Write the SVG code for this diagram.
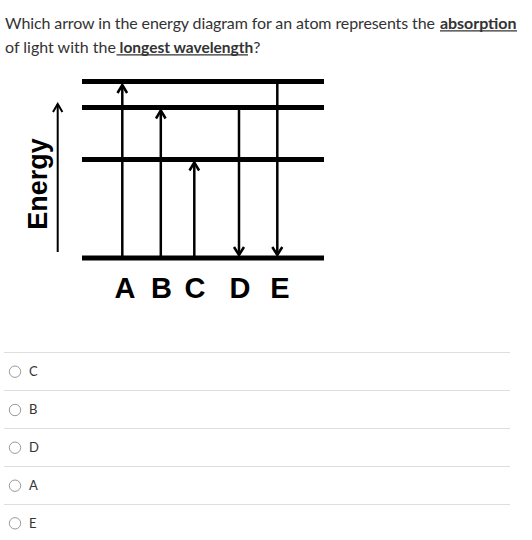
<svg xmlns="http://www.w3.org/2000/svg" width="532" height="540" viewBox="0 0 532 540">
<style>
.q{font-family:Lato,"Open Sans",sans-serif;font-size:16px;fill:#333}
.qb{font-weight:bold}
.ul{stroke:#333;stroke-width:1.3}
.lvl{stroke:#000;stroke-width:5;fill:none}
.tr{stroke:#000;stroke-width:2.5;fill:none}
.hd{stroke:#000;stroke-width:2.5;fill:none;stroke-linejoin:miter}
.lab{font-family:"Liberation Sans",Arial,sans-serif;font-weight:bold;font-size:29px;fill:#000;text-anchor:middle}
.sep{stroke:#dedede;stroke-width:1}
.rad{fill:#fff;stroke:#9a9a9a;stroke-width:1}
.opt{font-family:Lato,"Open Sans",sans-serif;font-size:13px;fill:#333}
</style>
<rect width="532" height="540" fill="#fff"/>
<g id="question">
<text class="q" x="5" y="29" textLength="430">Which arrow in the energy diagram for an atom represents the</text>
<text class="q qb" x="440" y="29" textLength="76.5">absorption</text>
<line class="ul" x1="440" y1="30.8" x2="517" y2="30.8"/>
<text class="q" x="5" y="53">of light with the<tspan class="qb" style="font-size:15.5px"> longest wavelength</tspan>?</text>
<line class="ul" x1="116.5" y1="54.8" x2="248" y2="54.8"/>
</g>
<g id="levels">
<line class="lvl" x1="82" y1="81.5" x2="324" y2="81.5"/>
<line class="lvl" x1="82" y1="107.5" x2="324" y2="107.5"/>
<line class="lvl" x1="82" y1="159.5" x2="324" y2="159.5"/>
<line class="lvl" x1="82" y1="258" x2="324" y2="258"/>
</g>
<g id="energy-axis">
<line class="tr" x1="57.7" y1="252" x2="57.7" y2="104" style="stroke-width:2"/>
<polyline class="hd" points="53,112 57.7,104 62.4,112" style="stroke-width:2"/>
<text x="47" y="184" transform="rotate(-90 47 184)" text-anchor="middle" style="font-family:'Liberation Sans',Arial,sans-serif;font-weight:bold;font-size:27px;fill:#000">Energy</text>
</g>
<g id="connectors">
<g id="arrow-A"><line class="tr" x1="122.3" y1="256" x2="122.3" y2="85"/><polyline class="hd" points="117.5,93 122.3,85 127.1,93"/></g>
<g id="arrow-B"><line class="tr" x1="160.8" y1="256" x2="160.8" y2="110.5"/><polyline class="hd" points="156,118.5 160.8,110.5 165.6,118.5"/></g>
<g id="arrow-C"><line class="tr" x1="194.3" y1="256" x2="194.3" y2="162.5"/><polyline class="hd" points="189.5,170.5 194.3,162.5 199.1,170.5"/></g>
<g id="arrow-D"><line class="tr" x1="239" y1="107.5" x2="239" y2="255"/><polyline class="hd" points="234,247 239,255 244,247"/></g>
<g id="arrow-E"><line class="tr" x1="277.3" y1="81.5" x2="277.3" y2="255"/><polyline class="hd" points="272.3,247 277.3,255 282.3,247"/></g>
</g>
<g id="labels">
<text class="lab" x="125" y="297.5">A</text>
<text class="lab" x="161.5" y="297.5">B</text>
<text class="lab" x="195" y="297.5">C</text>
<text class="lab" x="240" y="297.5">D</text>
<text class="lab" x="280" y="297.5">E</text>
</g>
<g id="options">
<line class="sep" x1="4" y1="352.5" x2="510" y2="352.5"/>
<g id="opt-C"><circle class="rad" cx="15" cy="371.7" r="5.7"/><text class="opt" x="29" y="376">C</text></g>
<line class="sep" x1="4" y1="390.5" x2="510" y2="390.5"/>
<g id="opt-B"><circle class="rad" cx="15" cy="410" r="5.7"/><text class="opt" x="29" y="414.3">B</text></g>
<line class="sep" x1="4" y1="428.5" x2="510" y2="428.5"/>
<g id="opt-D"><circle class="rad" cx="15" cy="447.7" r="5.7"/><text class="opt" x="29" y="452">D</text></g>
<line class="sep" x1="4" y1="466.5" x2="510" y2="466.5"/>
<g id="opt-A"><circle class="rad" cx="15" cy="485.7" r="5.7"/><text class="opt" x="29" y="490">A</text></g>
<line class="sep" x1="4" y1="504.5" x2="510" y2="504.5"/>
<g id="opt-E"><circle class="rad" cx="15" cy="523.3" r="5.7"/><text class="opt" x="29" y="527.6">E</text></g>
</g>
</svg>
